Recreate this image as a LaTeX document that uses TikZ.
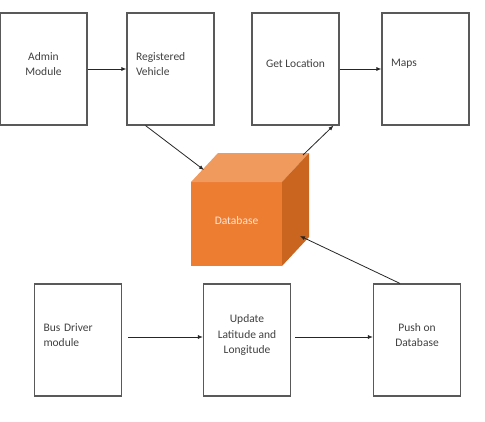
\documentclass[tikz,border=0pt]{standalone}
\usepackage{fontspec}
\setmainfont{Carlito}
\usetikzlibrary{positioning,arrows.meta}
\definecolor{boxline}{HTML}{595959}
\definecolor{txtgray}{HTML}{404040}
\definecolor{dbfront}{HTML}{ED7D31}
\definecolor{dbtop}{HTML}{F19A5E}
\definecolor{dbside}{HTML}{C9651F}
\definecolor{dbtext}{HTML}{FCE4D6}
\tikzset{
  module/.style={draw=boxline,line width=1.1pt,minimum width=87pt,minimum height=112pt,inner sep=0pt},
  lbl/.style={text=txtgray,font=\fontsize{11.5}{15.5}\selectfont,inner sep=0pt},
  flow/.style={-{Latex[length=5pt,width=4pt]},line width=0.8pt,draw=black!85},
}
\begin{document}
\begin{tikzpicture}[x=1pt,y=-1pt,on grid]
\useasboundingbox (0,0) rectangle (485,421);
% top row
\node[module,label={[lbl,align=center,yshift=5pt]center:Admin\\Module}](admin) at (43.5,69) {};
\node[module,label={[lbl,text width=69pt,align=left,yshift=5pt]center:Registered\\Vehicle}](regveh)[right=127pt of admin]{};
\node[module,label={[lbl,align=center,yshift=5pt]center:Get Location}](getloc)[right=125pt of regveh]{};
\node[module,label={[lbl,text width=69pt,align=left,yshift=5pt]center:Maps}](maps)[right=130pt of getloc]{};
% bottom row
\node[module,label={[lbl,text width=69pt,align=left,yshift=5pt]center:Bus Driver\\module}](busdrv) at (78,340) {};
\node[module,label={[lbl,align=center,yshift=5pt]center:Update\\Latitude and\\Longitude}](update)[right=169pt of busdrv]{};
\node[module,label={[lbl,align=center,yshift=5pt]center:Push on\\Database}](push)[right=170pt of update]{};
% database cube
\coordinate (ftl) at (191,182); \coordinate (ftr) at (282,182);
\coordinate (fbl) at (191,266); \coordinate (fbr) at (282,266);
\coordinate (btl) at (218,153); \coordinate (btr) at (309,153);
\coordinate (bbr) at (309,237);
\fill[dbfront] (ftl) rectangle (fbr);
\fill[dbtop] (ftl) -- (btl) -- (btr) -- (ftr) -- cycle;
\fill[dbside] (ftr) -- (btr) -- (bbr) -- (fbr) -- cycle;
\node[lbl,text=dbtext](db) at (236.5,221) {Database};
\coordinate (dbin) at (204,170);
\coordinate (dbout) at (303,155);
\coordinate (dbpush) at (300,236);
% connectors
\draw[flow] (admin.east) -- (regveh.west);
\draw[flow] (getloc.east) -- (maps.west);
\draw[flow] ([xshift=-25pt]regveh.south) -- (dbin);
\draw[flow] (dbout) -- ([xshift=38pt]getloc.south);
\draw[flow] ([xshift=-17pt]push.north) -- (dbpush);
\draw[flow] ([xshift=6pt,yshift=3pt]busdrv.east) -- ([yshift=3pt]update.west);
\draw[flow] ([xshift=4pt,yshift=3pt]update.east) -- ([yshift=3pt]push.west);
\end{tikzpicture}
\end{document}
